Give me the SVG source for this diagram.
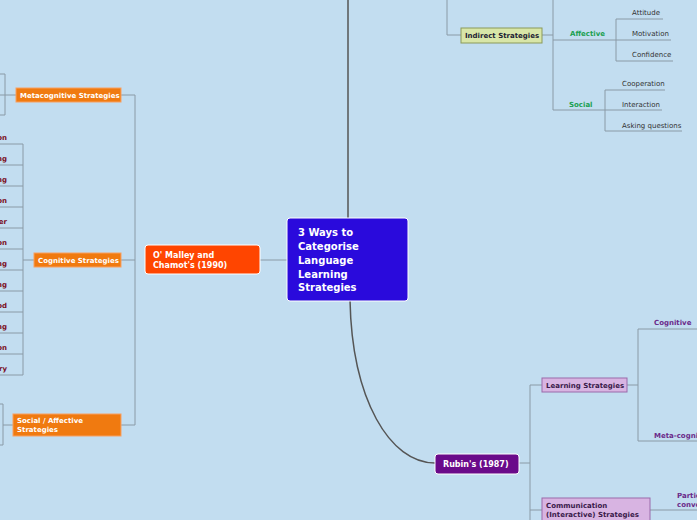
<svg xmlns="http://www.w3.org/2000/svg" width="697" height="520" viewBox="0 0 697 520">
<style>
text{font-family:Verdana,"DejaVu Sans",sans-serif;font-weight:bold}
.l{fill:none;stroke:#8a9aa6;stroke-width:1}
.d{fill:none;stroke:#555;stroke-width:1.5}
.lr{font-size:7px;fill:#7a0d1c}
.g{font-size:7px;fill:#1aa050}
.n{font-size:7px;fill:#333;font-weight:normal}
.p{font-size:7px;fill:#6a2a8a}
.w{fill:#fff}
</style>
<rect width="697" height="520" fill="#c2ddf0"/>
<g id="connectors">
<path class="d" d="M348 0V218" stroke-width="2"/>
<path class="d" d="M350 300C352 400 390 463 435 463"/>
<path class="l" d="M260 260H287 M121 95H135V425H121 M121 260H135 M0 95H16 M0 74H5V115H0 M0 404H3V445H0 M3 425H13"/>
<path class="l" d="M23 144V375 M0 144H23 M0 165H23 M0 186H23 M0 207H23 M0 228H23 M0 249H23 M0 270H23 M0 291H23 M0 312H23 M0 333H23 M0 354H23 M0 375H23 M23 260H34"/>
<path class="l" d="M447 0V35H461 M542 35H553 M553 0V110 M553 40H616 M616 19V61 M616 19H663 M616 40H671 M616 61H673 M553 110H605 M605 90V131 M605 90H665 M605 110H662 M605 131H682"/>
<path class="l" d="M519 463H530 M530 385V520 M530 385H542 M627 385H638 M638 329V441 M638 329H697 M638 441H697 M530 510H542 M650 510H697"/>
</g>
<g id="central"><rect x="287" y="218" width="121" height="83" rx="3" fill="#2a0adc" stroke="#fff"/>
<text class="w" font-size="10"><tspan x="298" y="236">3 Ways to</tspan><tspan x="298" y="250">Categorise</tspan><tspan x="298" y="264">Language</tspan><tspan x="298" y="278">Learning</tspan><tspan x="298" y="291">Strategies</tspan></text></g>
<g id="omalley"><rect x="145" y="245" width="115" height="29" rx="3" fill="#ff4500" stroke="#fff"/>
<text class="w" font-size="8"><tspan x="153" y="258">O' Malley and</tspan><tspan x="153" y="268">Chamot's (1990)</tspan></text></g>
<g id="meta"><rect x="16" y="88" width="105" height="14" fill="#f07a10" stroke="#f8a060"/><text class="w" font-size="7" x="20" y="98">Metacognitive Strategies</text></g>
<g id="cog"><rect x="34" y="253" width="87" height="14" fill="#f07a10" stroke="#f8a060"/><text class="w" font-size="7" x="38" y="263">Cognitive Strategies</text></g>
<g id="social"><rect x="13" y="414" width="108" height="22" fill="#f07a10" stroke="#f8a060"/><text class="w" font-size="7"><tspan x="17" y="423">Social / Affective</tspan><tspan x="17" y="432">Strategies</tspan></text></g>
<g id="cogitems" class="lr" text-anchor="end">
<text x="7" y="140">on</text><text x="7" y="161">ng</text><text x="7" y="182">ng</text><text x="7" y="203">on</text><text x="7" y="224">er</text><text x="7" y="245">on</text><text x="7" y="266">ng</text><text x="7" y="287">ng</text><text x="7" y="308">od</text><text x="7" y="329">ng</text><text x="7" y="350">on</text><text x="7" y="371">ry</text>
</g>
<g id="indirect"><rect x="461" y="28" width="81" height="15" fill="#d8e6a8" stroke="#8a9a5a"/><text x="465" y="38" font-size="7" fill="#223">Indirect Strategies</text></g>
<g id="affective"><text class="g" x="570" y="36">Affective</text><text class="n" x="632" y="15">Attitude</text><text class="n" x="632" y="36">Motivation</text><text class="n" x="632" y="57">Confidence</text></g>
<g id="socialr"><text class="g" x="569" y="107">Social</text><text class="n" x="622" y="86">Cooperation</text><text class="n" x="622" y="107">Interaction</text><text class="n" x="622" y="128">Asking questions</text></g>
<g id="rubin"><rect x="435" y="454" width="84" height="20" rx="3" fill="#6a0a8a" stroke="#fff"/><text class="w" font-size="8" x="443" y="467">Rubin's (1987)</text></g>
<g id="learning"><rect x="542" y="378" width="85" height="14" fill="#d8b4e2" stroke="#9a6aaa"/><text x="546" y="388" font-size="7" fill="#3a1a4a">Learning Strategies</text></g>
<g id="lsitems"><text class="p" x="654" y="325">Cognitive</text><text class="p" x="654" y="438">Meta-cognitive</text></g>
<g id="comm"><rect x="542" y="498" width="108" height="30" fill="#d8b4e2" stroke="#9a6aaa"/><text font-size="7" fill="#3a1a4a"><tspan x="546" y="508">Communication</tspan><tspan x="546" y="517">(Interactive) Strategies</tspan></text></g>
<g id="commitems"><text class="p"><tspan x="677" y="498">Participation in</tspan><tspan x="677" y="507">conversation</tspan></text></g>
</svg>
